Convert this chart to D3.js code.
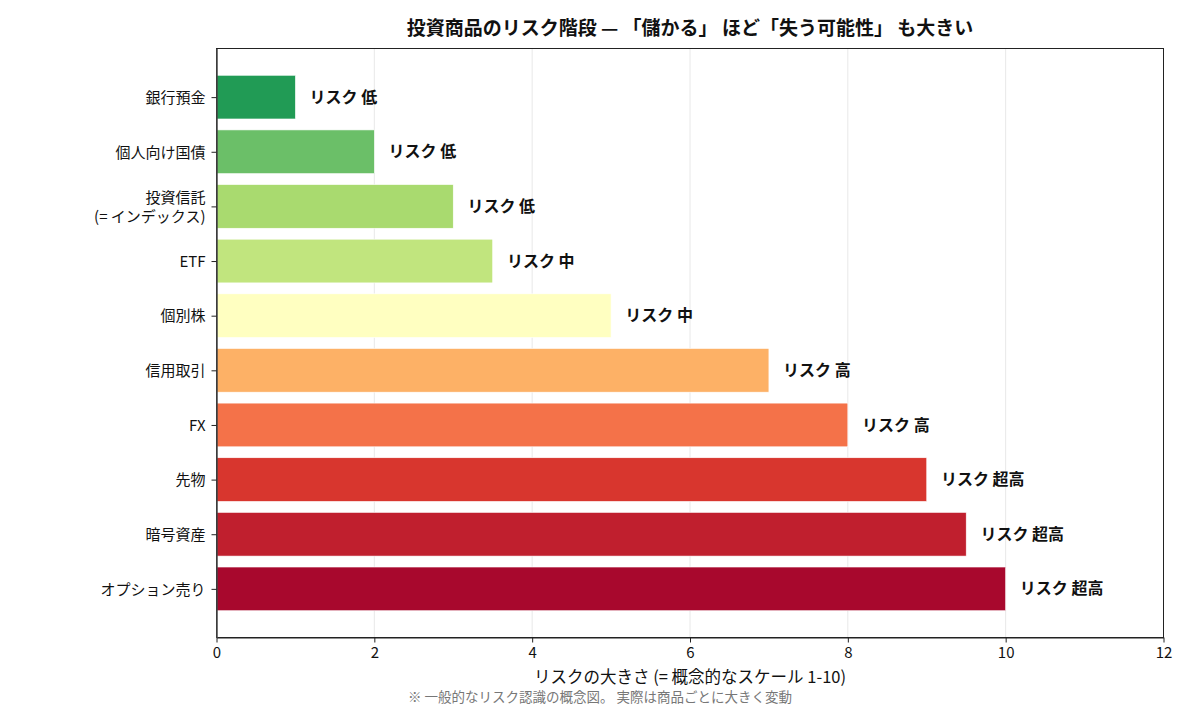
<!DOCTYPE html>
<html><head><meta charset="utf-8">
<script src="https://cdn.jsdelivr.net/npm/d3@7"></script>
<style>
body{margin:0;background:#fff;}
text{font-family:"Noto Sans CJK JP","Noto Sans",sans-serif;}
</style></head>
<body><svg id="c" width="1200" height="709"></svg>
<script>
const categories = ["銀行預金","個人向け国債","投資信託\n(= インデックス)","ETF","個別株","信用取引","FX","先物","暗号資産","オプション売り"];
const values = [1,2,3,3.5,5,7,8,9,9.5,10];
const riskLabels = ["リスク 低","リスク 低","リスク 低","リスク 中","リスク 中","リスク 高","リスク 高","リスク 超高","リスク 超高","リスク 超高"];
const xTicks = [0,2,4,6,8,10,12];
const title = "投資商品のリスク階段 — 「儲かる」 ほど「失う可能性」 も大きい";
const xLabel = "リスクの大きさ (= 概念的なスケール 1-10)";
const footnote = "※ 一般的なリスク認識の概念図。 実際は商品ごとに大きく変動";

const rdylgn = ["#a50026","#d73027","#f46d43","#fdae61","#fee08b","#ffffbf","#d9ef8b","#a6d96a","#66bd63","#1a9850","#006837"];
const cmap = d3.scaleLinear().domain(d3.range(11).map(i=>i/10)).range(rdylgn).interpolate(d3.interpolateRgb);
const color = v => cmap(1 - v/10);

const svg = d3.select("#c");
const L=216.5, R=1163.5, T=48.5, B=637.5;
const x = d3.scaleLinear().domain([0,12]).range([L,R]);
const y = d3.scaleLinear().domain([-0.89, 9.89]).range([T,B]);
const bh = y(0.4)-y(-0.4);

// grid
svg.append("g").selectAll("line").data(xTicks).join("line")
  .attr("x1",d=>x(d)).attr("x2",d=>x(d)).attr("y1",T).attr("y2",B)
  .attr("stroke","#e8e8e8").attr("stroke-width",1);

// bars
svg.append("g").selectAll("rect").data(values).join("rect")
  .attr("x",x(0)).attr("y",(d,i)=>y(i)-bh/2)
  .attr("width",d=>x(d)-x(0)).attr("height",bh)
  .attr("fill",d=>color(d)).attr("fill-opacity",0.97)
  .attr("stroke","#fff").attr("stroke-width",0.6);

// value labels
svg.append("g").selectAll("text").data(values).join("text")
  .attr("x",d=>x(d+0.18)).attr("y",(d,i)=>y(i))
  .attr("dy","0.35em").attr("font-size",16).attr("font-weight","bold").attr("fill","#111")
  .text((d,i)=>riskLabels[i]);

// frame
svg.append("rect").attr("x",L).attr("y",T).attr("width",R-L).attr("height",B-T)
  .attr("fill","none").attr("stroke","#222").attr("stroke-width",1);

// x axis
const xa = svg.append("g").attr("transform",`translate(0,${B})`)
  .call(d3.axisBottom(x).tickValues(xTicks).tickSize(5).tickSizeOuter(0).tickPadding(5).tickFormat(d3.format("d")));
xa.select(".domain").attr("stroke","#222");
xa.selectAll("text").attr("font-size",15).attr("fill","#111").style("font-family","'Noto Sans CJK JP',sans-serif");
xa.selectAll(".tick line").attr("stroke","#222");

// y axis
const ya = svg.append("g").attr("transform",`translate(${L},0)`)
  .call(d3.axisLeft(y).tickValues(d3.range(categories.length)).tickSize(5).tickSizeOuter(0).tickPadding(6).tickFormat(""));
ya.select(".domain").attr("stroke","#444").attr("stroke-width",1.5);
ya.selectAll(".tick line").attr("stroke","#222");
ya.selectAll(".tick").each(function(d){
  const lines = categories[d].split("\n");
  const t = d3.select(this).append("text").attr("x",-11).attr("fill","#111")
    .attr("font-size",15).attr("text-anchor","end");
  const n = lines.length;
  lines.forEach((s,k)=>{
    t.append("tspan").attr("x",-11).attr("y",(k-(n-1)/2)*19).attr("dy","0.35em").text(s);
  });
});

// texts
svg.append("text").attr("x",(L+R)/2).attr("y",28).attr("dy","0.35em").attr("text-anchor","middle")
  .attr("font-size",19).attr("font-weight","bold").attr("fill","#111").text(title);
svg.append("text").attr("x",(L+R)/2).attr("y",677).attr("dy","0.35em").attr("text-anchor","middle")
  .attr("font-size",16.5).attr("fill","#111").text(xLabel);
svg.append("text").attr("x",600).attr("y",697).attr("dy","0.35em").attr("text-anchor","middle")
  .attr("font-size",13.5).attr("fill","#777").text(footnote);
</script></body></html>
